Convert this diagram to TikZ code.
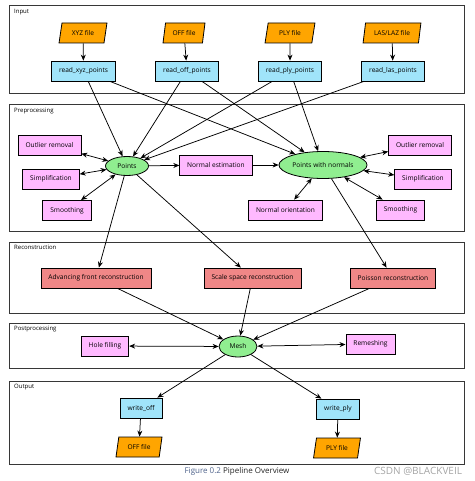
\documentclass[tikz,border=0pt]{standalone}
\usepackage{fontspec}
\setmainfont{Open Sans}
\usetikzlibrary{shapes.geometric,arrows.meta}
\definecolor{fileor}{RGB}{255,165,0}
\definecolor{readbl}{RGB}{160,228,250}
\definecolor{pinkop}{RGB}{255,185,255}
\definecolor{greenel}{RGB}{144,238,144}
\definecolor{redrec}{RGB}{240,135,135}
\definecolor{framec}{RGB}{55,55,55}
\definecolor{capblue}{RGB}{80,100,140}
\definecolor{wmgray}{RGB}{165,165,165}
\tikzset{
 base/.style={draw=black, line width=0.8pt, font=\fontsize{6.6}{7.5}\selectfont, minimum height=20pt, inner xsep=7.5pt, inner ysep=0pt},
 filebox/.style={base, trapezium, trapezium left angle=70, trapezium right angle=110, trapezium stretches=true, fill=fileor, minimum width=48pt, inner xsep=2pt},
 readbox/.style={base, rectangle, fill=readbl},
 opbox/.style={base, rectangle, fill=pinkop},
 recbox/.style={base, rectangle, fill=redrec},
 databox/.style={base, ellipse, fill=greenel, inner sep=0pt},
 frame/.style={draw=framec, line width=1pt},
 framelabel/.style={anchor=north west, font=\fontsize{6}{7}\selectfont, inner sep=0pt},
 arr/.style={-{Stealth[length=6pt,width=5pt]}, line width=0.75pt},
 darr/.style={{Stealth[length=6pt,width=5pt]}-{Stealth[length=6pt,width=5pt]}, line width=0.75pt},
}
\begin{document}
\begin{tikzpicture}[x=1pt,y=-1pt]
\fill[white] (0,0) rectangle (474,481);
\useasboundingbox (0,0) rectangle (474,481);
% frames
\draw[frame] (9,6) rectangle (464,94);
\node[framelabel] (lin) at (14,9) {Input};
\draw[frame] (9,105) rectangle (464,231);
\node[framelabel] (lpre) at (14,108) {Preprocessing};
\draw[frame] (9,242) rectangle (464,313);
\node[framelabel] (lrec) at (14,245) {Reconstruction};
\draw[frame] (9,323) rectangle (464,368);
\node[framelabel] (lpost) at (14,326) {Postprocessing};
\draw[frame] (9,381) rectangle (464,464);
\node[framelabel] (lout) at (14,384) {Output};
% input
\node[filebox, minimum width=48pt] (fxyz) at (83,33) {XYZ file};
\node[filebox, minimum width=42pt] (foff) at (184,33) {OFF file};
\node[filebox, minimum width=50pt] (fply) at (290,33) {PLY file};
\node[filebox, minimum width=58pt] (flas) at (392,33) {LAS/LAZ file};
\node[readbox] (rxyz) at (83.5,71) {read\_xyz\_points};
\node[readbox] (roff) at (187,71) {read\_off\_points};
\node[readbox] (rply) at (290,71) {read\_ply\_points};
\node[readbox] (rlas) at (393,71) {read\_las\_points};
% preprocessing
\node[databox, minimum width=43pt, minimum height=19pt] (pts) at (127,166) {Points};
\node[opbox] (nest) at (216,165) {Normal estimation};
\node[databox, minimum width=88pt, minimum height=27pt] (pwn) at (323,165) {Points with normals};
\node[opbox] (orl) at (49.5,145) {Outlier removal};
\node[opbox] (siml) at (51,179) {Simplification};
\node[opbox] (smol) at (67,210.5) {Smoothing};
\node[opbox] (orr) at (420,145) {Outlier removal};
\node[opbox] (simr) at (423,179) {Simplification};
\node[opbox] (smor) at (400.5,210) {Smoothing};
\node[opbox] (nori) at (285.5,210) {Normal orientation};
% reconstruction
\node[recbox] (afr) at (96,278) {Advancing front reconstruction};
\node[recbox] (ssr) at (252.5,278) {Scale space reconstruction};
\node[recbox] (psr) at (393,278) {Poisson reconstruction};
% postprocessing
\node[opbox] (hole) at (105,346) {Hole filling};
\node[databox, minimum width=38pt, minimum height=21pt] (mesh) at (238,346.5) {Mesh};
\node[opbox] (rem) at (370.5,344) {Remeshing};
% output
\node[readbox] (woff) at (141,408) {write\_off};
\node[readbox] (wply) at (338,409) {write\_ply};
\node[filebox, minimum width=46pt] (ooff) at (139,447) {OFF file};
\node[filebox, minimum width=47pt] (oply) at (337,448) {PLY file};
% edges
\draw[arr] (fxyz) -- (rxyz);
\draw[arr] (foff) -- (roff);
\draw[arr] (fply) -- (rply);
\draw[arr] (flas) -- (rlas);
\draw[arr] (rxyz) -- (pts);
\draw[arr] (rxyz) -- (pwn);
\draw[arr] (roff) -- (pts);
\draw[arr] (roff) -- (pwn);
\draw[arr] (rply) -- (pts);
\draw[arr] (rply) -- (pwn);
\draw[arr] (rlas) -- (pts);
\draw[arr] (pts) -- (nest);
\draw[arr] (nest) -- (pwn);
\draw[darr] (orl) -- (pts);
\draw[darr] (siml) -- (pts);
\draw[darr] (smol) -- (pts);
\draw[darr] (pwn) -- (orr);
\draw[darr] (pwn) -- (simr);
\draw[darr] (pwn) -- (smor);
\draw[darr] (pwn) -- (nori);
\draw[arr] (pts) -- (afr);
\draw[arr] (pts) -- (ssr);
\draw[arr] (pwn) -- (psr);
\draw[arr] (afr) -- (mesh);
\draw[arr] (ssr) -- (mesh);
\draw[arr] (psr) -- (mesh);
\draw[darr] (hole) -- (mesh);
\draw[darr] (mesh) -- (rem);
\draw[arr] (mesh) -- (woff);
\draw[arr] (mesh) -- (wply);
\draw[arr] (woff) -- (ooff);
\draw[arr] (wply) -- (oply);
% caption
\node[font=\fontsize{8}{9}\selectfont, text=black!85] (cap) at (237,471.5) {\textcolor{capblue}{Figure 0.2} Pipeline Overview};
\node[font=\fontsize{10}{11}\selectfont, text=wmgray] (wm) at (418,471) {CSDN @BLACKVEIL};
\end{tikzpicture}
\end{document}
